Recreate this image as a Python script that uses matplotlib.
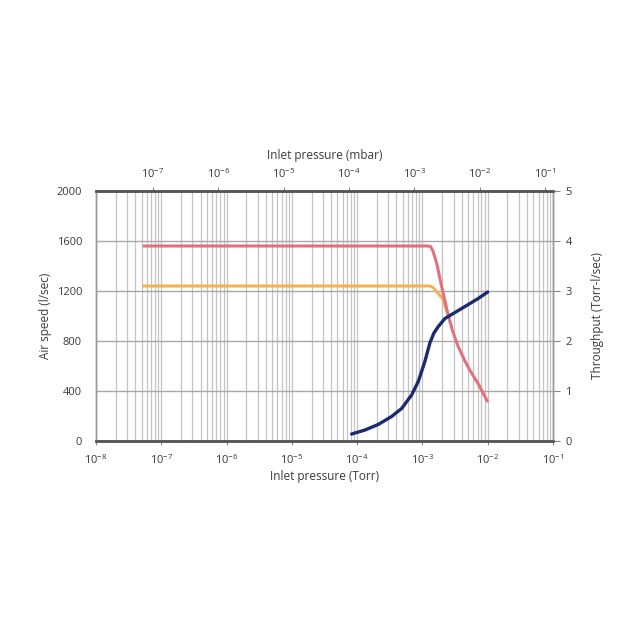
import matplotlib
matplotlib.use("Agg")
import matplotlib.pyplot as plt
import numpy as np
from matplotlib.ticker import LogLocator, FixedLocator, NullFormatter, NullLocator

plt.rcParams['font.family'] = ['Open Sans', 'DejaVu Sans']
plt.rcParams['mathtext.default'] = 'regular'

# Air speed curve (Torr, l/sec)
air_p = [5.2e-8, 1.2e-3, 1.33e-3, 1.45e-3, 1.65e-3, 2.04e-3, 2.48e-3, 2.9e-3, 3.5e-3,
         4.48e-3, 5.3e-3, 7.4e-3, 1.0e-2]
air_s = [1560, 1560, 1556, 1520, 1424, 1200, 1008, 880, 760,
         640, 568, 445, 312]

# Second speed curve (Torr, l/sec)
he_p = [5.2e-8, 1.3e-3, 1.45e-3, 1.65e-3, 2.02e-3, 2.3e-3, 2.45e-3]
he_s = [1240, 1240, 1228, 1195, 1142, 1060, 1015]

# Throughput (Torr, Torr-l/sec)
tp_p = [8.24e-5, 1.32e-4, 2.10e-4, 3.37e-4, 4.80e-4, 6.83e-4, 8.63e-4, 1.09e-3,
        1.3e-3, 1.5e-3, 1.75e-3, 2.21e-3, 2.80e-3, 4.48e-3, 7.15e-3, 1.0e-2]
tp_q = [0.14, 0.22, 0.33, 0.49, 0.65, 0.92, 1.19, 1.59,
        1.96, 2.16, 2.29, 2.45, 2.53, 2.69, 2.85, 2.98]

left_ticks = [0, 400, 800, 1200, 1600, 2000]
right_ticks = [0, 1, 2, 3, 4, 5]
top_ticks = [1e-7, 1e-6, 1e-5, 1e-4, 1e-3, 1e-2, 1e-1]
TORR_TO_MBAR = 1.33322

fig = plt.figure(figsize=(6.4, 6.4), dpi=100)
ax = fig.add_axes([96/640, 1-441/640, 457/640, 250/640])
ax.set_xscale('log')
ax.set_xlim(1e-8, 1e-1)
ax.set_ylim(0, 2000)

# grids
ax.xaxis.set_major_locator(LogLocator(base=10, numticks=20))
ax.xaxis.set_minor_locator(LogLocator(base=10, subs=np.arange(2, 10), numticks=20))
ax.xaxis.set_minor_formatter(NullFormatter())
ax.grid(which='minor', axis='x', color='#c4c4c4', lw=0.9)
ax.grid(which='major', axis='x', color='#c4c4c4', lw=0.9)
ax.set_yticks(left_ticks)
ax.grid(which='major', axis='y', color='#a8a8a8', lw=1.0)
ax.set_axisbelow(True)

ax.plot(air_p, air_s, color='#e4707c', lw=2.2, solid_capstyle='butt',
        solid_joinstyle='round', zorder=3)
ax.plot(he_p, he_s, color='#f2b256', lw=2.2, solid_capstyle='butt',
        solid_joinstyle='round', zorder=2.9)

ax2 = ax.twinx()
ax2.set_ylim(0, 5)
ax2.set_yticks(right_ticks)
ax2.plot(tp_p, tp_q, color='#1c2a6e', lw=2.4, solid_capstyle='round',
         solid_joinstyle='round', zorder=4)

tc = '#3a3a3a'
for a in (ax, ax2):
    a.spines['top'].set_color('#555555')
    a.spines['top'].set_linewidth(1.8)
    a.spines['bottom'].set_color('#555555')
    a.spines['bottom'].set_linewidth(1.8)
    a.spines['left'].set_color('#999999')
    a.spines['left'].set_linewidth(1.0)
    a.spines['right'].set_color('#999999')
    a.spines['right'].set_linewidth(1.0)

ax.tick_params(axis='y', which='both', length=0, labelsize=8, colors=tc, pad=10)
ax.tick_params(axis='x', which='major', length=3, width=0.8, color='#888888', labelsize=8, labelcolor=tc, pad=6)
ax.tick_params(axis='x', which='minor', length=0)
ax2.tick_params(axis='y', which='both', length=5, width=0.8, color='#888888', labelsize=8, labelcolor=tc, pad=4)

ax.set_xlabel('Inlet pressure (Torr)', fontsize=8.5, color=tc, labelpad=2)
ax.set_ylabel('Air speed (l/sec)', fontsize=8.5, color=tc, labelpad=3)
ax2.set_ylabel('Throughput (Torr-l/sec)', fontsize=8.5, color=tc, labelpad=14)

sec = ax.secondary_xaxis('top', functions=(lambda x: x*TORR_TO_MBAR, lambda x: x/TORR_TO_MBAR))
sec.set_xscale('log')
sec.xaxis.set_major_locator(FixedLocator(top_ticks))
sec.xaxis.set_minor_locator(NullLocator())
sec.tick_params(axis='x', length=3, width=0.8, color='#888888', labelsize=8, labelcolor=tc, pad=4)
sec.spines['top'].set_visible(False)
sec.set_xlabel('Inlet pressure (mbar)', fontsize=8.5, color=tc, labelpad=6)

fig.savefig('out.png', dpi=100, facecolor='white')
